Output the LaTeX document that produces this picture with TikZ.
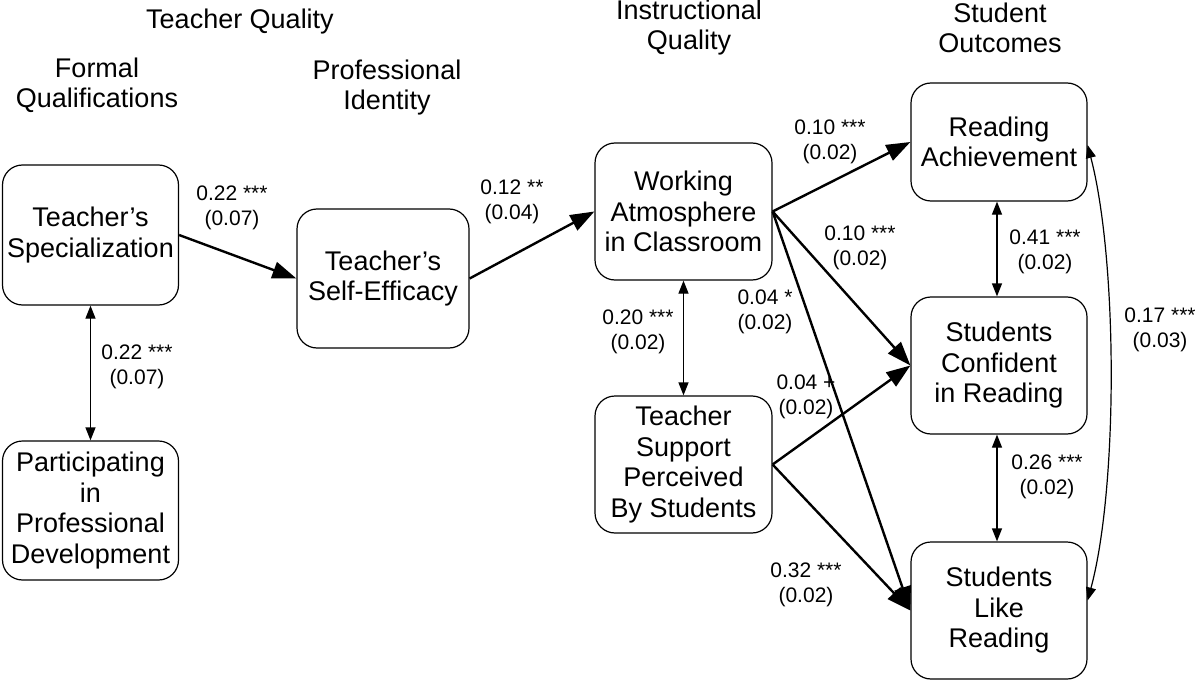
\documentclass[tikz,border=0pt]{standalone}
\usepackage{fontspec}
\setmainfont{Liberation Sans}
\usetikzlibrary{arrows.meta}
\begin{document}
\begin{tikzpicture}[x=1pt,y=-1pt,
 box/.style={draw, rounded corners=20pt, line width=1.2pt, minimum width=176pt, minimum height=138pt, align=center, inner sep=0pt, font=\fontsize{27}{30.5}\selectfont},
 hdr/.style={align=center, font=\fontsize{27}{30}\selectfont, inner sep=0pt},
 lab/.style={align=center, font=\fontsize{21}{25}\selectfont, inner sep=0pt},
 dirarrow/.style={line width=2.4pt, -{Triangle[length=24pt,width=17pt]}},
 corarrow/.style={line width=1.2pt, {Triangle[length=13pt,width=10pt]}-{Triangle[length=13pt,width=10pt]}},
]
\useasboundingbox (0,0) rectangle (1200,682);

% headers
\node[hdr] (hTQ) at (240,22) {Teacher Quality};
\node[hdr] (hFQ) at (97,85) {Formal\\Qualifications};
\node[hdr] (hPI) at (387,88) {Professional\\Identity};
\node[hdr] (hIQ) at (689,28) {Instructional\\Quality};
\node[hdr] (hSO) at (1000,28) {Student\\Outcomes};

% boxes
\node[box, minimum height=140pt] (spec) at (90.5,235) {Teacher’s\\Specialization};
\node[box, minimum height=139pt] (part) at (90.5,510.5) {Participating\\in\\Professional\\Development};
\node[box, minimum width=172pt, minimum height=139pt] (se) at (383,278.5) {Teacher’s\\Self-Efficacy};
\node[box, minimum width=177pt, minimum height=137pt] (wa) at (683.5,211.5) {Working\\Atmosphere\\in Classroom};
\node[box, minimum width=177pt, minimum height=137pt] (ts) at (683.5,464.5) {Teacher\\Support\\Perceived\\By Students};
\node[box, minimum height=118pt] (ra) at (999,142) {Reading\\Achievement};
\node[box, minimum height=137pt] (sc) at (999,365.5) {Students\\Confident\\in Reading};
\node[box, minimum height=137pt] (slr) at (999,610.5) {Students\\Like\\Reading};

% directed paths
\draw[dirarrow] (spec.east) -- (se.west);
\draw[dirarrow] (se.east) -- (wa.west);
\draw[dirarrow] (wa.east) -- (ra.west);
\draw[dirarrow] (wa.east) -- (sc.west);
\draw[dirarrow] (wa.east) -- (slr.west);
\draw[dirarrow] (ts.east) -- (sc.west);
\draw[dirarrow] (ts.east) -- (slr.west);

% correlations
\draw[corarrow] (spec.south) -- (part.north);
\draw[corarrow] (wa.south) -- (ts.north);
\draw[corarrow] ([xshift=-2pt]ra.south) -- ([xshift=-2pt]sc.north);
\draw[corarrow] ([xshift=-2pt]sc.south) -- ([xshift=-2pt]slr.north);
\draw[corarrow] ([yshift=-3pt]ra.east) .. controls (1118,262) and (1118,488) .. ([yshift=10pt]slr.east);

% labels
\node[lab] (l1) at (232,208) {0.22 ***\\(0.07)};
\node[lab] (l2) at (512,202) {0.12 **\\(0.04)};
\node[lab] (l3) at (137,367) {0.22 ***\\(0.07)};
\node[lab] (l4) at (638,332) {0.20 ***\\(0.02)};
\node[lab] (l5) at (830,142) {0.10 ***\\(0.02)};
\node[lab] (l6) at (860,248) {0.10 ***\\(0.02)};
\node[lab] (l7) at (765,312) {0.04 *\\(0.02)};
\node[lab] (l8) at (806,397) {0.04 +\\(0.02)};
\node[lab] (l9) at (806,585) {0.32 ***\\(0.02)};
\node[lab] (l10) at (1045,252) {0.41 ***\\(0.02)};
\node[lab] (l11) at (1047,477) {0.26 ***\\(0.02)};
\node[lab] (l12) at (1160,330) {0.17 ***\\(0.03)};
\end{tikzpicture}
\end{document}
